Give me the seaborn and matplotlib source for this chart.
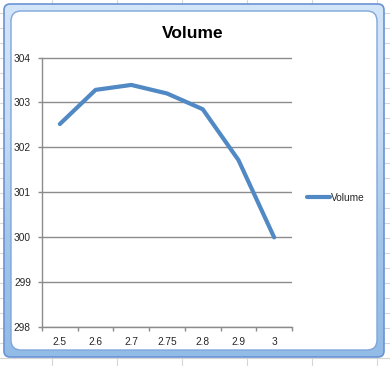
import numpy as np
import pandas as pd
import matplotlib
matplotlib.use("Agg")
import matplotlib.pyplot as plt
import seaborn as sns
from matplotlib.patches import FancyBboxPatch
from matplotlib.colors import LinearSegmentedColormap

# ---- data ----
categories = ["2.5", "2.6", "2.7", "2.75", "2.8", "2.9", "3"]
volume = [302.52, 303.28, 303.39, 303.2, 302.85, 301.72, 300.0]
y_ticks = [298, 299, 300, 301, 302, 303, 304]
title = "Volume"
series_name = "Volume"

df = pd.DataFrame({"x": categories, "value": volume})

sns.set_theme(style="white")
plt.rcParams['font.family'] = ['Liberation Sans', 'DejaVu Sans']

W, H = 390, 366
fig = plt.figure(figsize=(W / 100, H / 100), dpi=100)
fig.patch.set_facecolor("white")

# ---- background (spreadsheet grid + chart frame) in pixel coords ----
bg = fig.add_axes([0, 0, 1, 1], zorder=0)
bg.set_xlim(0, W)
bg.set_ylim(H, 0)
bg.axis("off")
for gx in range(52, W, 65):
    bg.plot([gx, gx], [0, H], color="#d6d6d6", lw=0.8, zorder=0)
for gy in range(13, H, 15):
    bg.plot([0, W], [gy, gy], color="#d6d6d6", lw=0.8, zorder=0)

outer = FancyBboxPatch((4, 4), 380, 353, boxstyle="round,pad=0,rounding_size=6",
                       facecolor="none", edgecolor="#6a93d4", lw=1.2, zorder=2)
bg.add_patch(outer)
cmap = LinearSegmentedColormap.from_list("frame", ["#d3e5f8", "#c8ddf5", "#a3c6ea", "#92bbe6"])
grad = np.linspace(0, 1, 256).reshape(-1, 1)
im = bg.imshow(grad, cmap=cmap, extent=(4, 384, 357, 4), aspect="auto", zorder=1)
im.set_clip_path(outer)
inner = FancyBboxPatch((11, 11), 366, 339, boxstyle="round,pad=0,rounding_size=10",
                       facecolor="white", edgecolor="#7fa6dc", lw=1.0, zorder=3)
bg.add_patch(inner)

# ---- main chart ----
left, right, top, bottom = 42, 292, 57.5, 327.3
ax = fig.add_axes([left / W, (H - bottom) / H, (right - left) / W, (bottom - top) / H], zorder=5)
ax.patch.set_alpha(0)
sns.lineplot(data=df, x="x", y="value", sort=False, color="#5089c4", lw=3.0,
             ax=ax, label=series_name, legend=False)
ax.set_xlim(-0.5, len(categories) - 0.5)
ax.set_ylim(y_ticks[0], y_ticks[-1])
ax.set_yticks(y_ticks)
ax.set_yticklabels([str(v) for v in y_ticks])
ax.set_xticks(range(len(categories)))
ax.set_xticklabels(categories)
ax.set_xticks(np.arange(-0.5, len(categories), 1.0), minor=True)
ax.set_xlabel("")
ax.set_ylabel("")
ax.yaxis.grid(True, color="#8c8c8c", lw=1.0)
ax.xaxis.grid(False)
ax.set_axisbelow(True)
for s in ["top", "right"]:
    ax.spines[s].set_visible(False)
for s in ["left", "bottom"]:
    ax.spines[s].set_color("#8c8c8c")
    ax.spines[s].set_linewidth(1.0)
ax.tick_params(axis="y", which="major", length=3, width=1, color="#8c8c8c",
               labelsize=7.3, labelcolor="#262626", pad=5, left=True)
ax.tick_params(axis="x", which="major", length=0, labelsize=7.3, labelcolor="#262626", pad=7)
ax.tick_params(axis="x", which="minor", length=3, width=1, color="#8c8c8c", bottom=True)

fig.text(193 / W, 1 - 33 / H, title, ha="center", va="center",
         fontsize=12.5, fontweight="bold", color="black")

h, = ax.plot([], [], color="#5089c4", lw=3.0)
fig.legend([h], [series_name], loc="center left", bbox_to_anchor=(307 / W, 1 - 198 / H),
           frameon=False, fontsize=7.3, handlelength=2.3, handletextpad=0.1,
           borderpad=0, borderaxespad=0)

fig.savefig("out.png", dpi=100)
